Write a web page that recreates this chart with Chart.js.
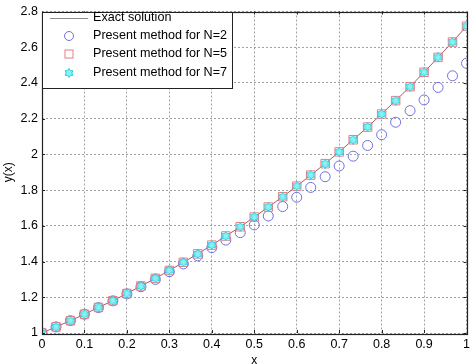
<!DOCTYPE html>
<html>
<head>
<meta charset="utf-8">
<script src="https://cdn.jsdelivr.net/npm/chart.js@4.4.0/dist/chart.umd.min.js"></script>
<style>
html, body { margin: 0; padding: 0; background: #fff; }
</style>
</head>
<body>
<canvas id="myChart" width="474" height="364"></canvas>
<script>
// x positions of the samples
const xValues = [0, 0.033, 0.067, 0.1, 0.133, 0.167, 0.2, 0.233, 0.267, 0.3, 0.333,
  0.367, 0.4, 0.433, 0.467, 0.5, 0.533, 0.567, 0.6, 0.633, 0.667,
  0.7, 0.733, 0.767, 0.8, 0.833, 0.867, 0.9, 0.933, 0.967, 1];

// exact solution
const exactValues = [1.000, 1.034, 1.069, 1.105, 1.143, 1.181, 1.221, 1.263, 1.306, 1.350, 1.396,
  1.443, 1.492, 1.543, 1.595, 1.649, 1.705, 1.763, 1.822, 1.884, 1.948,
  2.014, 2.082, 2.153, 2.226, 2.301, 2.379, 2.460, 2.543, 2.629, 2.718];

// present method N=2 (circles)
const n2Values = [1.000, 1.034, 1.069, 1.105, 1.142, 1.180, 1.219, 1.259, 1.300, 1.343, 1.387,
  1.432, 1.478, 1.520, 1.562, 1.605, 1.655, 1.708, 1.760, 1.815, 1.875,
  1.935, 1.990, 2.050, 2.110, 2.180, 2.245, 2.305, 2.375, 2.440, 2.510];

// present method N=5 (squares)
const n5Values = [1.000, 1.034, 1.069, 1.105, 1.143, 1.181, 1.221, 1.263, 1.306, 1.350, 1.396,
  1.443, 1.492, 1.543, 1.595, 1.649, 1.705, 1.763, 1.822, 1.884, 1.948,
  2.014, 2.082, 2.153, 2.226, 2.301, 2.379, 2.460, 2.543, 2.629, 2.718];

// present method N=7 (hexagrams)
const n7Values = [1.000, 1.034, 1.069, 1.105, 1.143, 1.181, 1.221, 1.263, 1.306, 1.350, 1.396,
  1.443, 1.492, 1.543, 1.595, 1.649, 1.705, 1.763, 1.822, 1.884, 1.948,
  2.014, 2.082, 2.153, 2.226, 2.301, 2.379, 2.460, 2.543, 2.629, 2.718];

const seriesLabels = ['Exact solution', 'Present method for N=2', 'Present method for N=5', 'Present method for N=7'];
const xTicks = [0, 0.1, 0.2, 0.3, 0.4, 0.5, 0.6, 0.7, 0.8, 0.9, 1];
const yTicks = [1, 1.2, 1.4, 1.6, 1.8, 2, 2.2, 2.4, 2.6, 2.8];

const FONT = '"Liberation Sans", Arial, Helvetica, sans-serif';

function makeHex(size) {
  const c = document.createElement('canvas');
  c.width = size; c.height = size;
  const g = c.getContext('2d');
  const cx = size / 2, cy = size / 2, r = size / 2 - 0.5;
  g.beginPath();
  for (let i = 0; i < 12; i++) {
    const a = -Math.PI / 2 + i * Math.PI / 6;
    const rr = i % 2 === 0 ? r : r * 0.62;
    g.lineTo(cx + rr * Math.cos(a), cy + rr * Math.sin(a));
  }
  g.closePath();
  g.fillStyle = '#86f2f4';
  g.fill();
  g.strokeStyle = '#25cfdc';
  g.lineWidth = 1;
  g.stroke();
  return c;
}
const hexMarker = makeHex(10);

function pts(ys) {
  return xValues.map((x, i) => ({x: x, y: ys[i]}));
}

const frameAndLegend = {
  id: 'frameAndLegend',
  afterDatasetsDraw(chart) {
    const ctx = chart.ctx;
    const a = chart.chartArea;
    const xs = chart.scales.x, ys = chart.scales.y;
    ctx.save();
    // inward tick marks
    ctx.strokeStyle = '#222';
    ctx.lineWidth = 1;
    ctx.beginPath();
    xTicks.forEach(v => {
      const px = Math.round(xs.getPixelForValue(v)) + 0.5;
      ctx.moveTo(px, a.bottom); ctx.lineTo(px, a.bottom - 3);
      ctx.moveTo(px, a.top); ctx.lineTo(px, a.top + 3);
    });
    yTicks.forEach(v => {
      const py = Math.round(ys.getPixelForValue(v)) + 0.5;
      ctx.moveTo(a.left, py); ctx.lineTo(a.left + 3, py);
      ctx.moveTo(a.right, py); ctx.lineTo(a.right - 3, py);
    });
    ctx.stroke();
    // frame
    ctx.strokeStyle = '#222';
    ctx.lineWidth = 1.2;
    ctx.strokeRect(Math.round(a.left) + 0.5, Math.round(a.top) + 0.5,
      Math.round(a.right - a.left), Math.round(a.bottom - a.top));

    // legend box
    const lx = Math.round(a.left) + 0.5, ly = Math.round(a.top) + 0.5;
    const lw = 190, lh = 76;
    ctx.fillStyle = '#fff';
    ctx.fillRect(lx, ly, lw, lh);
    ctx.strokeStyle = '#222';
    ctx.lineWidth = 1;
    ctx.strokeRect(lx, ly, lw, lh);

    const rowY = [18, 36, 54, 73];
    const mx = 69;
    ctx.font = '12.6px ' + FONT;
    ctx.fillStyle = '#000';
    ctx.textBaseline = 'middle';
    ctx.textAlign = 'left';
    seriesLabels.forEach((t, i) => ctx.fillText(t, 93, rowY[i]));
    // line sample
    ctx.strokeStyle = '#8c8c8c';
    ctx.lineWidth = 1;
    ctx.beginPath();
    ctx.moveTo(50, rowY[0] + 0.5); ctx.lineTo(88, rowY[0] + 0.5);
    ctx.stroke();
    // circle
    ctx.strokeStyle = '#7070e0';
    ctx.beginPath();
    ctx.arc(mx, rowY[1], 4.5, 0, Math.PI * 2);
    ctx.stroke();
    // square
    ctx.strokeStyle = '#f07a80';
    ctx.strokeRect(mx - 4, rowY[2] - 4, 8, 8);
    // hexagram
    ctx.drawImage(hexMarker, mx - 5, rowY[3] - 5);
    ctx.restore();
  }
};

const ctx = document.getElementById('myChart').getContext('2d');
const myChart = new Chart(ctx, {
  type: 'scatter',
  data: {
    datasets: [{
      label: seriesLabels[0],
      data: pts(exactValues),
      showLine: true,
      borderColor: 'rgb(160, 95, 105)',
      borderWidth: 1,
      pointRadius: 0,
      order: 3
    },
    {
      label: seriesLabels[1],
      data: pts(n2Values),
      showLine: false,
      pointStyle: 'circle',
      pointRadius: 5,
      borderColor: '#7070e0',
      backgroundColor: 'rgba(0,0,0,0)',
      borderWidth: 1,
      order: 2
    },
    {
      label: seriesLabels[2],
      data: pts(n5Values),
      showLine: false,
      pointStyle: 'rect',
      pointRadius: 6,
      borderColor: '#f07a80',
      backgroundColor: 'rgba(0,0,0,0)',
      borderWidth: 1,
      order: 1
    },
    {
      label: seriesLabels[3],
      data: pts(n7Values),
      showLine: false,
      pointStyle: hexMarker,
      pointRadius: 5,
      order: 0
    }]
  },
  options: {
    responsive: false,
    animation: false,
    devicePixelRatio: 1,
    layout: { padding: { top: 6, right: 6, left: 0, bottom: 0 } },
    plugins: {
      legend: { display: false },
      tooltip: { enabled: false }
    },
    scales: {
      x: {
        type: 'linear',
        min: 0,
        max: 1,
        afterFit: s => { s.height = 31; },
        afterBuildTicks: s => { s.ticks = xTicks.map(v => ({value: v})); },
        ticks: {
          padding: 4,
          maxRotation: 0,
          color: '#000',
          font: { family: FONT, size: 12.5 },
          callback: v => String(v)
        },
        grid: { color: '#8a8a8a', lineWidth: 0.8, drawTicks: false },
        border: { display: false, dash: [2, 2] },
        title: { display: true, text: 'x', color: '#000', font: { family: FONT, size: 12 }, padding: { top: 0, bottom: -4 } }
      },
      y: {
        type: 'linear',
        min: 1,
        max: 2.8,
        afterFit: s => { s.width = 42; },
        afterBuildTicks: s => { s.ticks = yTicks.map(v => ({value: v})); },
        ticks: {
          padding: 4,
          color: '#000',
          font: { family: FONT, size: 12.5 },
          callback: v => String(v)
        },
        grid: { color: '#8a8a8a', lineWidth: 0.8, drawTicks: false },
        border: { display: false, dash: [2, 2] },
        title: { display: true, text: 'y(x)', color: '#000', font: { family: FONT, size: 12 }, padding: { top: 1, bottom: 0 } }
      }
    }
  },
  plugins: [frameAndLegend]
});
</script>
</body>
</html>
